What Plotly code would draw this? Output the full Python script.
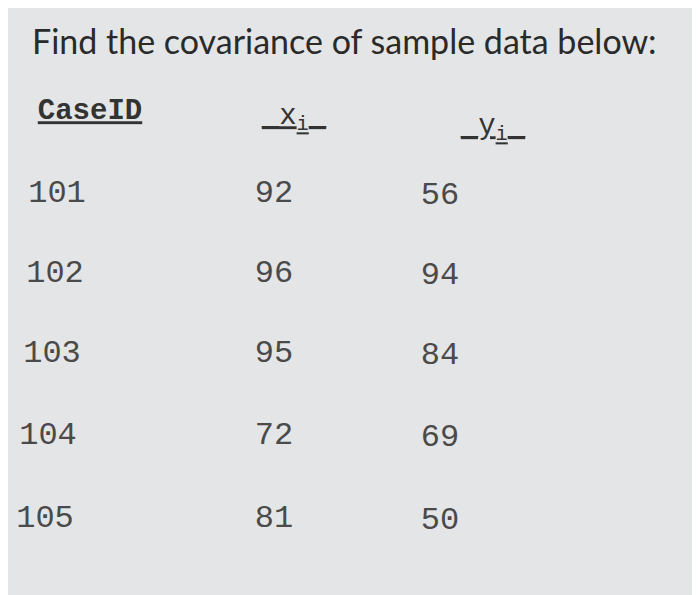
import plotly.graph_objects as go

title = "Find the covariance of sample data below:"
headers = ["<b><u>CaseID</u></b>", "<u>_x<sub>i</sub>_</u>", "<u>_y<sub>i</sub>_</u>"]
case_ids = ["101", "102", "103", "104", "105"]
x_vals = [92, 96, 95, 72, 81]
y_vals = [56, 94, 84, 69, 50]

# layout coordinates (page pixels, shifted for the page margin)
col_x = [47, 266, 432]
header_x = [82, 286, 485]
row_y = [186, 266, 346, 428, 511]
case_x = [49, 47, 44, 40, 37]

mono = dict(family="Liberation Mono, DejaVu Sans Mono, monospace", size=32, color="#4a4a4a")

fig = go.Figure()
fig.add_trace(go.Scatter(x=case_x, y=row_y, text=case_ids, mode="text",
                         textfont=mono, hoverinfo="skip"))
fig.add_trace(go.Scatter(x=[col_x[1]] * len(x_vals), y=row_y, text=[str(v) for v in x_vals],
                         mode="text", textfont=mono, hoverinfo="skip"))
fig.add_trace(go.Scatter(x=[col_x[2]] * len(y_vals), y=[r + 2 for r in row_y], text=[str(v) for v in y_vals],
                         mode="text", textfont=mono, hoverinfo="skip"))
fig.add_trace(go.Scatter(x=header_x, y=[104, 109, 119], text=headers, mode="text",
                         textfont=dict(family="Liberation Mono, monospace", size=29, color="#333"),
                         hoverinfo="skip"))

fig.add_annotation(x=22, y=32, text=title, showarrow=False, xanchor="left",
                   font=dict(family="Lato, Noto Sans, sans-serif", size=34, color="#2a2a2a"))

fig.update_xaxes(range=[0, 692], visible=False, fixedrange=True)
fig.update_yaxes(range=[587, 0], visible=False, fixedrange=True)
fig.update_layout(width=692, height=587, margin=dict(l=0, r=0, t=0, b=0),
                  showlegend=False, paper_bgcolor="#e4e5e6", plot_bgcolor="#e4e5e6")
fig.write_html("out.html")
